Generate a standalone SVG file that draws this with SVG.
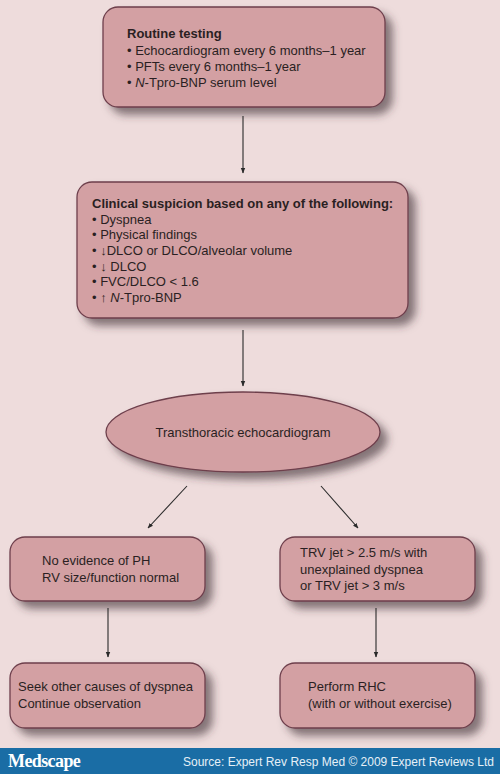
<svg xmlns="http://www.w3.org/2000/svg" width="500" height="774" viewBox="0 0 500 774">
<defs>
<filter id="sh" x="-10%" y="-10%" width="130%" height="140%">
<feDropShadow dx="7" dy="7" stdDeviation="4.5" flood-color="#3a2a30" flood-opacity="0.6"/>
</filter>
<marker id="ah" viewBox="0 0 10 10" refX="9" refY="5" markerWidth="5" markerHeight="5" orient="auto">
<path d="M0,1 L10,5 L0,9 z" fill="#2a2a2a"/>
</marker>
<style>
.box{fill:#d3a0a3;stroke:#6e3f4c;stroke-width:1.3;filter:url(#sh)}
.t{font-family:"Liberation Sans",Arial,sans-serif;font-size:13px;fill:#2a1f22}
.b{font-weight:bold}
.c{stroke:#2a2a2a;stroke-width:1.1;fill:none;marker-end:url(#ah)}
</style>
</defs>
<rect width="500" height="774" fill="#eedcdc"/>
<g id="n1">
<rect class="box" x="103" y="7" width="282" height="100" rx="15"/>
<text class="t b" x="127" y="38">Routine testing</text>
<text class="t" x="127" y="55">• Echocardiogram every 6 months–1 year</text>
<text class="t" x="127" y="71">• PFTs every 6 months–1 year</text>
<text class="t" x="127" y="87">• <tspan font-style="italic">N</tspan>-Tpro-BNP serum level</text>
</g>
<g id="n2">
<rect class="box" x="77" y="182" width="331" height="136" rx="15"/>
<text class="t b" x="92" y="208">Clinical suspicion based on any of the following:</text>
<text class="t" x="92" y="223.5">• Dyspnea</text>
<text class="t" x="92" y="239">• Physical findings</text>
<text class="t" x="92" y="255">• ↓DLCO or DLCO/alveolar volume</text>
<text class="t" x="92" y="270.5">• ↓ DLCO</text>
<text class="t" x="92" y="286">• FVC/DLCO &lt; 1.6</text>
<text class="t" x="92" y="301.5">• ↑ <tspan font-style="italic">N</tspan>-Tpro-BNP</text>
</g>
<g id="n3">
<ellipse class="box" cx="243" cy="432" rx="137" ry="40"/>
<text class="t" x="243" y="437" text-anchor="middle">Transthoracic echocardiogram</text>
</g>
<g id="n4">
<rect class="box" x="10" y="537" width="195" height="64" rx="15"/>
<text class="t" x="42" y="565">No evidence of PH</text>
<text class="t" x="42" y="582">RV size/function normal</text>
</g>
<g id="n5">
<rect class="box" x="280" y="537" width="195" height="64" rx="15"/>
<text class="t" x="300" y="557">TRV jet &gt; 2.5 m/s with</text>
<text class="t" x="300" y="573.5">unexplained dyspnea</text>
<text class="t" x="300" y="590">or TRV jet &gt; 3 m/s</text>
</g>
<g id="n6">
<rect class="box" x="10" y="663" width="195" height="65" rx="15"/>
<text class="t" x="18" y="691">Seek other causes of dyspnea</text>
<text class="t" x="18" y="708">Continue observation</text>
</g>
<g id="n7">
<rect class="box" x="280" y="663" width="195" height="65" rx="15"/>
<text class="t" x="308" y="691">Perform RHC</text>
<text class="t" x="308" y="708">(with or without exercise)</text>
</g>
<g id="connectors">
<line class="c" x1="243" y1="116" x2="243" y2="173"/>
<line class="c" x1="243" y1="330" x2="243" y2="386"/>
<line class="c" x1="187" y1="486" x2="148" y2="528"/>
<line class="c" x1="321" y1="486" x2="358" y2="528"/>
<line class="c" x1="108" y1="608" x2="108" y2="657"/>
<line class="c" x1="376" y1="608" x2="376" y2="657"/>
</g>
<g id="footer">
<rect x="0" y="748" width="500" height="26" fill="#1a6da5"/>
<text x="8" y="767" font-family="'Liberation Serif','Times New Roman',serif" font-size="18" font-weight="bold" fill="#ffffff" letter-spacing="-0.6">Medscape</text>
<text x="494" y="766" text-anchor="end" font-family="'Liberation Sans',Arial,sans-serif" font-size="12" fill="#e6f0f7">Source: Expert Rev Resp Med © 2009 Expert Reviews Ltd</text>
</g>
</svg>
